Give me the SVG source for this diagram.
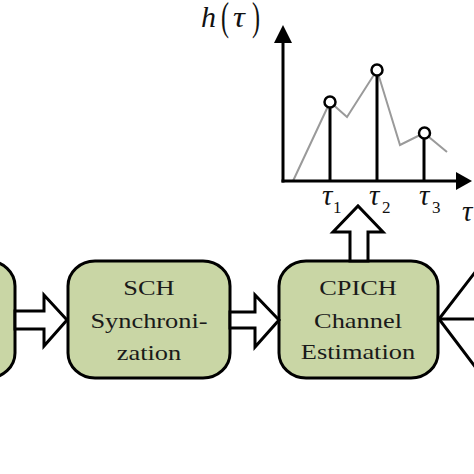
<svg xmlns="http://www.w3.org/2000/svg" width="474" height="474" viewBox="0 0 474 474">
<style>
.box{fill:#c9d6a5;stroke:#000;stroke-width:3}
.blk{fill:#fff;stroke:#000;stroke-width:3;stroke-linejoin:miter}
.lbl{font-family:"Liberation Serif","Times New Roman",serif;font-size:22px;fill:#1a1a1a;text-anchor:middle}
.m{font-family:"Liberation Serif","Times New Roman",serif;fill:#111}
.ax{stroke:#000;stroke-width:3;fill:none}
.stem{stroke:#000;stroke-width:3}
.dot{fill:#fff;stroke:#000;stroke-width:2.5}
</style>
<rect width="474" height="474" fill="#fff"/>
<g id="node-left">
<rect class="box" x="-150" y="261" width="165" height="117" rx="27" ry="25"/>
</g>
<g id="node-sch">
<rect class="box" x="68" y="261" width="162" height="117" rx="27" ry="25"/>
<text class="lbl" transform="translate(149,0) scale(1.2,1)" x="0" y="295">SCH</text>
<text class="lbl" transform="translate(149,0) scale(1.2,1)" x="0" y="328">Synchroni-</text>
<text class="lbl" transform="translate(149,0) scale(1.2,1)" x="0" y="360">zation</text>
</g>
<g id="node-cpich">
<rect class="box" x="279" y="261" width="159" height="117" rx="27" ry="25"/>
<text class="lbl" transform="translate(358,0) scale(1.2,1)" x="0" y="295">CPICH</text>
<text class="lbl" transform="translate(358,0) scale(1.2,1)" x="0" y="328">Channel</text>
<text class="lbl" transform="translate(358,0) scale(1.2,1)" x="0" y="359">Estimation</text>
</g>
<g id="connectors">
<polygon class="blk" points="15,311 44,311 44,295 67,320 44,346 44,329 15,329"/>
<polygon class="blk" points="230,312 255,312 255,295 279,320 255,347 255,328 230,328"/>
<polygon class="blk" points="350,261 350,232 333,232 358,206 383,232 368,232 368,261"/>
<polyline class="ax" points="476,271 439,319 476,368"/>
<line class="ax" x1="439" y1="319" x2="476" y2="319"/>
</g>
<g id="graph">
<polyline points="293,181 330,102 347,117 377,70 400,145 424,133 447,152" fill="none" stroke="#9a9a9a" stroke-width="2"/>
<line class="ax" x1="283" y1="182.5" x2="283" y2="40"/>
<polygon points="274,43 283,25 292,43" fill="#000"/>
<line class="ax" x1="281.5" y1="181" x2="459" y2="181"/>
<polygon points="456,172 472,181 456,190" fill="#000"/>
<line class="stem" x1="330" y1="181" x2="330" y2="108"/>
<line class="stem" x1="377" y1="181" x2="377" y2="76"/>
<line class="stem" x1="424" y1="181" x2="424" y2="139"/>
<circle class="dot" cx="330" cy="102" r="5.5"/>
<circle class="dot" cx="377" cy="70" r="5.5"/>
<circle class="dot" cx="424.5" cy="133" r="5.5"/>
<text class="m" x="201" y="27" font-size="30" font-style="italic">h</text>
<text class="m" transform="translate(221,30) scale(0.8,1.3)" x="0" y="0" font-size="30">(</text>
<text class="m" transform="translate(233,27) scale(1.1,1)" x="0" y="0" font-size="30" font-style="italic">τ</text>
<text class="m" transform="translate(252,30) scale(0.8,1.3)" x="0" y="0" font-size="30">)</text>
<text class="m" x="322" y="205" font-size="29" font-style="italic">τ</text>
<text class="m" x="333" y="213" font-size="17">1</text>
<text class="m" x="369" y="205" font-size="29" font-style="italic">τ</text>
<text class="m" x="382" y="213" font-size="17">2</text>
<text class="m" x="419" y="205" font-size="29" font-style="italic">τ</text>
<text class="m" x="432" y="213" font-size="17">3</text>
<text class="m" x="462" y="221" font-size="29" font-style="italic">τ</text>
</g>
</svg>
